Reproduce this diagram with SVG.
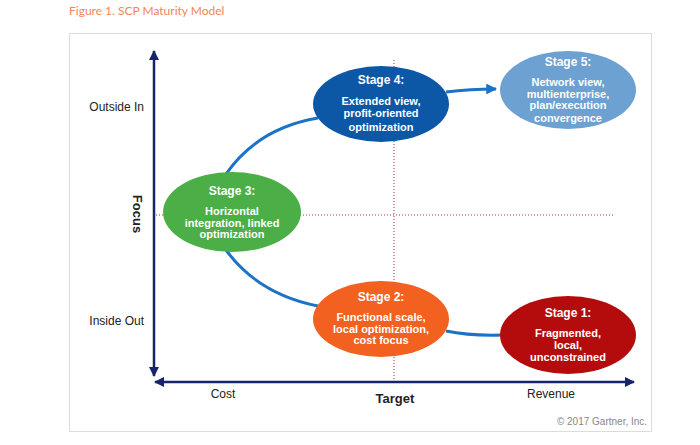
<svg xmlns="http://www.w3.org/2000/svg" width="700" height="445" viewBox="0 0 700 445">
<defs>
<style>
.lbl{font-family:"Liberation Sans",Arial,sans-serif;font-size:12px;fill:#222;}
.nt{font-family:"Liberation Sans",Arial,sans-serif;font-size:11px;font-weight:bold;fill:#fff;text-anchor:middle;}
.nh{font-size:12px;}
.axis{stroke:#17246a;stroke-width:2.5;fill:none;}
.dot{stroke:#b5322f;stroke-width:1;stroke-dasharray:1 2;fill:none;}
.curve{stroke:#1a73c6;stroke-width:3;fill:none;}
</style>
<marker id="ah" viewBox="0 0 10 10" refX="9" refY="5" markerWidth="4" markerHeight="4.4" orient="auto-start-reverse" markerUnits="strokeWidth">
<path d="M0,0 L10,5 L0,10 Z" fill="#17246a"/>
</marker>
<marker id="bh" viewBox="0 0 10 10" refX="9" refY="5" markerWidth="4" markerHeight="3.6" orient="auto" markerUnits="strokeWidth">
<path d="M0,0 L10,5 L0,10 Z" fill="#1a73c6"/>
</marker>
</defs>
<rect width="700" height="445" fill="#fff"/>
<text x="69" y="15" style="font-family:Lato,'Noto Sans',sans-serif;font-size:12px;fill:#f4845a;">Figure 1. SCP Maturity Model</text>
<rect x="69.5" y="33.5" width="582" height="398" fill="none" stroke="#dcdcdc" stroke-width="1"/>

<g id="grid">
<line class="dot" x1="156" y1="215" x2="615" y2="215"/>
<line class="dot" x1="394" y1="60" x2="394" y2="380"/>
</g>

<g id="axes">
<line class="axis" x1="154" y1="376" x2="154" y2="51" marker-start="url(#ah)" marker-end="url(#ah)"/>
<line class="axis" x1="155" y1="382" x2="634" y2="382" marker-start="url(#ah)" marker-end="url(#ah)"/>
<text class="lbl" x="144" y="111" text-anchor="end">Outside In</text>
<text class="lbl" x="144" y="325" text-anchor="end">Inside Out</text>
<text x="0" y="0" transform="translate(133,214) rotate(90)" text-anchor="middle" style="font-family:'Liberation Sans',Arial,sans-serif;font-size:13px;font-weight:bold;fill:#222;">Focus</text>
<text class="lbl" x="223" y="398" text-anchor="middle">Cost</text>
<text x="395" y="403" text-anchor="middle" style="font-family:'Liberation Sans',Arial,sans-serif;font-size:13px;font-weight:bold;fill:#222;">Target</text>
<text class="lbl" x="551" y="398" text-anchor="middle">Revenue</text>
<text x="602" y="425" text-anchor="middle" style="font-family:'Liberation Sans',Arial,sans-serif;font-size:10px;fill:#888;">© 2017 Gartner, Inc.</text>
</g>

<g id="connectors">
<path class="curve" d="M226,174 Q258,128 318,118"/>
<path class="curve" d="M226,250 Q258,294 318,306"/>
<path class="curve" d="M446,92 Q470,89 496,89" marker-end="url(#bh)"/>
<path class="curve" d="M446,331 Q470,336 502,335"/>
</g>

<g id="stage3">
<ellipse cx="232" cy="212" rx="69" ry="40" fill="#4cae47"/>
<text class="nt nh" x="232" y="195">Stage 3:</text>
<text class="nt" x="232" y="215">Horizontal</text>
<text class="nt" x="232" y="226.5">integration, linked</text>
<text class="nt" x="232" y="238">optimization</text>
</g>

<g id="stage4">
<ellipse cx="381" cy="104" rx="68" ry="38" fill="#0c58a6"/>
<text class="nt nh" x="381" y="84">Stage 4:</text>
<text class="nt" x="381" y="105">Extended view,</text>
<text class="nt" x="381" y="117">profit-oriented</text>
<text class="nt" x="381" y="131">optimization</text>
</g>

<g id="stage5">
<ellipse cx="568" cy="90" rx="68" ry="39" fill="#6da1d2"/>
<text class="nt nh" x="568" y="66">Stage 5:</text>
<text class="nt" x="568" y="86">Network view,</text>
<text class="nt" x="568" y="97.5">multienterprise,</text>
<text class="nt" x="568" y="109">plan/execution</text>
<text class="nt" x="568" y="122">convergence</text>
</g>

<g id="stage2">
<ellipse cx="381" cy="319" rx="68" ry="38" fill="#f26120"/>
<text class="nt nh" x="381" y="301">Stage 2:</text>
<text class="nt" x="381" y="321">Functional scale,</text>
<text class="nt" x="381" y="332.5">local optimization,</text>
<text class="nt" x="381" y="344">cost focus</text>
</g>

<g id="stage1">
<ellipse cx="568" cy="335" rx="68" ry="39" fill="#b40c0c"/>
<text class="nt nh" x="568" y="317">Stage 1:</text>
<text class="nt" x="568" y="337">Fragmented,</text>
<text class="nt" x="568" y="349">local,</text>
<text class="nt" x="568" y="361">unconstrained</text>
</g>
</svg>
